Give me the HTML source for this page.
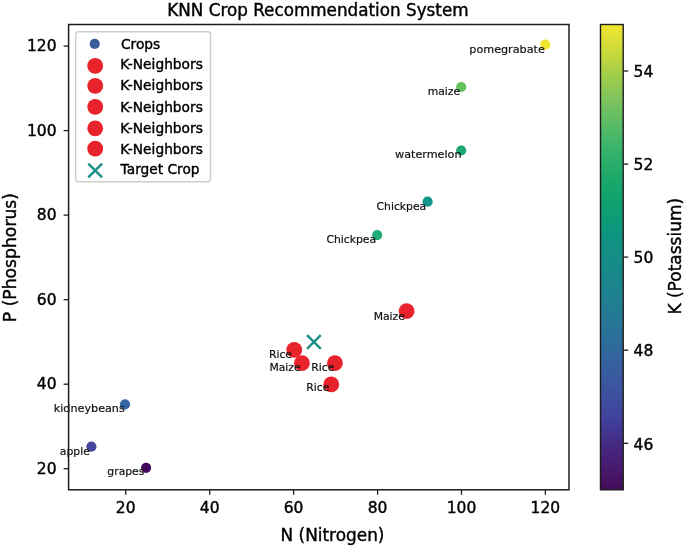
<!DOCTYPE html>
<html lang="en"><head><meta charset="utf-8"><title>KNN Crop Recommendation System</title>
<style>html,body{margin:0;padding:0;background:#fff;}body{width:685px;height:547px;overflow:hidden;}svg{display:block;filter:blur(0.45px);font-family:'DejaVu Sans', 'Liberation Sans', sans-serif;}text{fill:#000;stroke:#000;stroke-width:0.4px;}text.a{fill:#111;stroke:#111;stroke-width:0.2px;}</style></head><body>
<svg width="685" height="547" viewBox="0 0 685 547">
<defs><linearGradient id="vir" x1="0" y1="1" x2="0" y2="0">
<stop offset="0.0%" stop-color="#450c5a"/>
<stop offset="3.0%" stop-color="#481567"/>
<stop offset="8.5%" stop-color="#46257e"/>
<stop offset="15.0%" stop-color="#40409a"/>
<stop offset="23.0%" stop-color="#3c57a0"/>
<stop offset="28.0%" stop-color="#34639f"/>
<stop offset="34.0%" stop-color="#2a7298"/>
<stop offset="41.0%" stop-color="#1f8090"/>
<stop offset="48.5%" stop-color="#168b89"/>
<stop offset="55.0%" stop-color="#0e9580"/>
<stop offset="61.0%" stop-color="#0ea070"/>
<stop offset="66.5%" stop-color="#1aa86a"/>
<stop offset="74.0%" stop-color="#3cb46d"/>
<stop offset="84.0%" stop-color="#7ec45c"/>
<stop offset="90.0%" stop-color="#a8cf47"/>
<stop offset="95.0%" stop-color="#d0dc3a"/>
<stop offset="100.0%" stop-color="#f2e52e"/>
</linearGradient></defs>
<rect width="685" height="547" fill="#fff"/>
<text x="317.9" y="15.8" font-size="16.8" text-anchor="middle">KNN Crop Recommendation System</text>
<circle cx="545.2" cy="44.7" r="5.1" fill="#f0e62e"/>
<circle cx="461.2" cy="87.0" r="5.1" fill="#62c15a"/>
<circle cx="461.2" cy="150.5" r="5.1" fill="#1da772"/>
<circle cx="427.6" cy="201.7" r="5.1" fill="#149488"/>
<circle cx="377.2" cy="235.1" r="5.1" fill="#1fab75"/>
<circle cx="125.0" cy="404.3" r="5.1" fill="#3465a4"/>
<circle cx="91.4" cy="446.6" r="5.1" fill="#44479c"/>
<circle cx="146.1" cy="467.8" r="5.1" fill="#46085c"/>
<circle cx="406.6" cy="311.2" r="7.9" fill="#e8232b"/>
<circle cx="294.2" cy="349.8" r="7.9" fill="#e8232b"/>
<circle cx="301.9" cy="363.2" r="7.9" fill="#e8232b"/>
<circle cx="334.9" cy="363.2" r="7.9" fill="#e8232b"/>
<circle cx="331.2" cy="384.4" r="7.9" fill="#e8232b"/>
<path d="M307.0 335.1L320.8 348.9M307.0 348.9L320.8 335.1" stroke="#1a9088" stroke-width="2.4" fill="none"/>
<text class="a" x="544.8" y="53.2" font-size="11.2" text-anchor="end">pomegrabate</text>
<text class="a" x="460.1" y="95.2" font-size="10.8" text-anchor="end">maize</text>
<text class="a" x="461.5" y="158.2" font-size="11.2" text-anchor="end">watermelon</text>
<text class="a" x="426.2" y="210.1" font-size="10.8" text-anchor="end">Chickpea</text>
<text class="a" x="376.1" y="242.8" font-size="10.8" text-anchor="end">Chickpea</text>
<text class="a" x="124.8" y="412.0" font-size="11.2" text-anchor="end">kidneybeans</text>
<text class="a" x="89.8" y="454.8" font-size="10.8" text-anchor="end">apple</text>
<text class="a" x="144.4" y="475.3" font-size="10.8" text-anchor="end">grapes</text>
<text class="a" x="404.9" y="319.6" font-size="10.8" text-anchor="end">Maize</text>
<text class="a" x="292.0" y="358.3" font-size="10.8" text-anchor="end">Rice</text>
<text class="a" x="300.7" y="370.8" font-size="10.8" text-anchor="end">Maize</text>
<text class="a" x="334.3" y="370.5" font-size="10.8" text-anchor="end">Rice</text>
<text class="a" x="329.3" y="391.1" font-size="10.8" text-anchor="end">Rice</text>
<rect x="68.6" y="24.5" width="500.4" height="465.3" fill="none" stroke="#1c1c1c" stroke-width="1.5"/>
<path d="M125.7 489.8v5" stroke="#1c1c1c" stroke-width="1.3"/>
<text x="125.7" y="513.2" font-size="15.5" text-anchor="middle">20</text>
<path d="M68.6 468.7h-5" stroke="#1c1c1c" stroke-width="1.3"/>
<text x="56.5" y="473.8" font-size="15.5" text-anchor="end">20</text>
<path d="M209.7 489.8v5" stroke="#1c1c1c" stroke-width="1.3"/>
<text x="209.7" y="513.2" font-size="15.5" text-anchor="middle">40</text>
<path d="M68.6 384.2h-5" stroke="#1c1c1c" stroke-width="1.3"/>
<text x="56.5" y="389.3" font-size="15.5" text-anchor="end">40</text>
<path d="M293.6 489.8v5" stroke="#1c1c1c" stroke-width="1.3"/>
<text x="293.6" y="513.2" font-size="15.5" text-anchor="middle">60</text>
<path d="M68.6 299.7h-5" stroke="#1c1c1c" stroke-width="1.3"/>
<text x="56.5" y="304.8" font-size="15.5" text-anchor="end">60</text>
<path d="M377.6 489.8v5" stroke="#1c1c1c" stroke-width="1.3"/>
<text x="377.6" y="513.2" font-size="15.5" text-anchor="middle">80</text>
<path d="M68.6 215.1h-5" stroke="#1c1c1c" stroke-width="1.3"/>
<text x="56.5" y="220.2" font-size="15.5" text-anchor="end">80</text>
<path d="M461.5 489.8v5" stroke="#1c1c1c" stroke-width="1.3"/>
<text x="461.5" y="513.2" font-size="15.5" text-anchor="middle">100</text>
<path d="M68.6 130.6h-5" stroke="#1c1c1c" stroke-width="1.3"/>
<text x="56.5" y="135.7" font-size="15.5" text-anchor="end">100</text>
<path d="M545.4 489.8v5" stroke="#1c1c1c" stroke-width="1.3"/>
<text x="545.4" y="513.2" font-size="15.5" text-anchor="middle">120</text>
<path d="M68.6 46.1h-5" stroke="#1c1c1c" stroke-width="1.3"/>
<text x="56.5" y="51.2" font-size="15.5" text-anchor="end">120</text>
<text x="332.5" y="541.2" font-size="16.9" text-anchor="middle">N (Nitrogen)</text>
<text transform="translate(16.3 257.6) rotate(-90)" font-size="17.2" text-anchor="middle">P (Phosphorus)</text>
<rect x="600.5" y="24.5" width="22.7" height="465.3" fill="url(#vir)" stroke="#1c1c1c" stroke-width="1.4"/>
<path d="M623.2 443.3h5" stroke="#1c1c1c" stroke-width="1.3"/>
<text x="633.6" y="449.5" font-size="15.5">46</text>
<path d="M623.2 350.2h5" stroke="#1c1c1c" stroke-width="1.3"/>
<text x="633.6" y="356.4" font-size="15.5">48</text>
<path d="M623.2 257.1h5" stroke="#1c1c1c" stroke-width="1.3"/>
<text x="633.6" y="263.3" font-size="15.5">50</text>
<path d="M623.2 164.1h5" stroke="#1c1c1c" stroke-width="1.3"/>
<text x="633.6" y="170.3" font-size="15.5">52</text>
<path d="M623.2 71.0h5" stroke="#1c1c1c" stroke-width="1.3"/>
<text x="633.6" y="77.2" font-size="15.5">54</text>
<text transform="translate(681.2 256.2) rotate(-90)" font-size="17.0" text-anchor="middle">K (Potassium)</text>
<rect x="75.7" y="31.7" width="134.8" height="150.1" rx="2.8" fill="#fff" fill-opacity="0.8" stroke="#cdcdcd" stroke-width="1.4"/>
<circle cx="94.7" cy="43.9" r="5.1" fill="#3b5c9b"/>
<text x="121.0" y="48.5" font-size="13.75">Crops</text>
<circle cx="95.2" cy="65.9" r="7.9" fill="#e8232b"/>
<text x="120.3" y="68.8" font-size="13.75">K-Neighbors</text>
<circle cx="95.2" cy="85.9" r="7.9" fill="#e8232b"/>
<text x="120.3" y="89.7" font-size="13.75">K-Neighbors</text>
<circle cx="95.2" cy="106.8" r="7.9" fill="#e8232b"/>
<text x="120.3" y="111.5" font-size="13.75">K-Neighbors</text>
<circle cx="95.2" cy="128.3" r="7.9" fill="#e8232b"/>
<text x="120.3" y="132.8" font-size="13.75">K-Neighbors</text>
<circle cx="95.2" cy="148.7" r="7.9" fill="#e8232b"/>
<text x="120.3" y="153.5" font-size="13.75">K-Neighbors</text>
<path d="M88.3 163.6L102.1 177.4M88.3 177.4L102.1 163.6" stroke="#1a9088" stroke-width="2.4" fill="none"/>
<text x="120.6" y="173.9" font-size="13.75">Target Crop</text>
</svg></body></html>
